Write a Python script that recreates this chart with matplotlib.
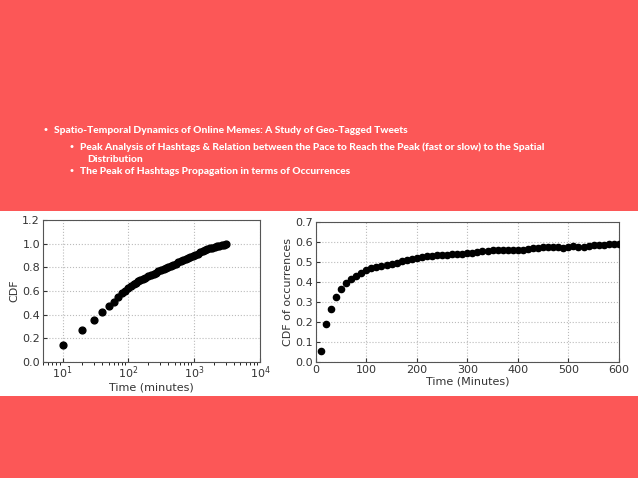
import numpy as np
import matplotlib.pyplot as plt
from matplotlib.patches import Rectangle

# left panel: CDF of time to reach peak (log x)
peak_time = [10, 20, 30, 40, 50, 60, 70, 80, 90, 100, 110, 120, 130, 140, 150, 165, 180,
             200, 220, 240, 260, 285, 310, 340, 370, 400, 440, 480, 520, 570, 620, 680,
             740, 800, 870, 950, 1030, 1120, 1220, 1330, 1450, 1580, 1720, 1870, 2030,
             2200, 2400, 2600, 2800, 3000]
peak_cdf = [0.14, 0.27, 0.35, 0.42, 0.47, 0.51, 0.55, 0.58, 0.60, 0.62, 0.64, 0.655, 0.67,
            0.68, 0.69, 0.70, 0.71, 0.725, 0.735, 0.745, 0.755, 0.765, 0.775, 0.785, 0.795,
            0.80, 0.81, 0.82, 0.83, 0.84, 0.85, 0.86, 0.87, 0.875, 0.885, 0.895, 0.905,
            0.915, 0.925, 0.935, 0.945, 0.955, 0.96, 0.965, 0.97, 0.975, 0.98, 0.985,
            0.99, 1.0]

# right panel: CDF of occurrences vs time
occ_time = list(range(10, 610, 10))
occ_cdf = [0.055, 0.19, 0.265, 0.325, 0.365, 0.395, 0.415, 0.43, 0.445, 0.46, 0.47, 0.475,
           0.48, 0.485, 0.49, 0.495, 0.505, 0.51, 0.515, 0.52, 0.525, 0.528, 0.53, 0.532,
           0.535, 0.535, 0.538, 0.54, 0.54, 0.545, 0.545, 0.55, 0.552, 0.555, 0.558, 0.56,
           0.56, 0.558, 0.56, 0.558, 0.56, 0.565, 0.57, 0.57, 0.572, 0.572, 0.573, 0.575,
           0.57, 0.575, 0.578, 0.572, 0.575, 0.58, 0.582, 0.583, 0.585, 0.587, 0.588, 0.59]

bullets = [
    (0.085, 0.722, "Spatio-Temporal Dynamics of Online Memes: A Study of Geo-Tagged Tweets"),
    (0.125, 0.686, "Peak Analysis of Hashtags & Relation between the Pace to Reach the Peak (fast or slow) to the Spatial"),
    (0.137, 0.662, "Distribution"),
    (0.125, 0.635, "The Peak of Hashtags Propagation in terms of Occurrences"),
]

red = "#fc5757"
fig = plt.figure(figsize=(6.38, 4.78), dpi=100, facecolor=red)
band = Rectangle((0, 0.172), 1, 0.387, transform=fig.transFigure,
                 facecolor="white", edgecolor="none", zorder=-5)
fig.add_artist(band)

for x, y, s in bullets:
    fig.text(x, y, s, color="white", fontsize=7.4, fontweight="black", family="Lato")
for y in (0.722, 0.686, 0.635):
    fig.text(0.066 if y > 0.7 else 0.108, y, "•", color="white", fontsize=7.4)

ax1 = fig.add_axes([0.067, 0.243, 0.341, 0.297], zorder=5)
ax1.scatter(peak_time, peak_cdf, s=24, color="black", zorder=3)
ax1.set_xscale("log")
ax1.set_xlim(5, 1e4)
ax1.set_ylim(0, 1.2)
ax1.set_yticks(np.arange(0, 1.21, 0.2))
ax1.set_xlabel("Time (minutes)", fontsize=8, color="#333333", labelpad=1)
ax1.set_ylabel("CDF", fontsize=8, color="#333333", labelpad=2)

ax2 = fig.add_axes([0.495, 0.243, 0.475, 0.293], zorder=5)
ax2.scatter(occ_time, occ_cdf, s=20, color="black", zorder=3)
ax2.set_xlim(0, 600)
ax2.set_ylim(0, 0.7)
ax2.set_yticks(np.arange(0, 0.71, 0.1))
ax2.set_xlabel("Time (Minutes)", fontsize=8, color="#333333", labelpad=1)
ax2.set_ylabel("CDF of occurrences", fontsize=8, color="#333333", labelpad=2)

for ax in (ax1, ax2):
    ax.grid(True, linestyle=":", color="#bbbbbb", linewidth=0.8)
    ax.tick_params(labelsize=8, colors="#333333", direction="in", length=3, pad=2)
    for sp in ax.spines.values():
        sp.set_color("#555555")

fig.savefig("out.png", dpi=100, facecolor=red)
